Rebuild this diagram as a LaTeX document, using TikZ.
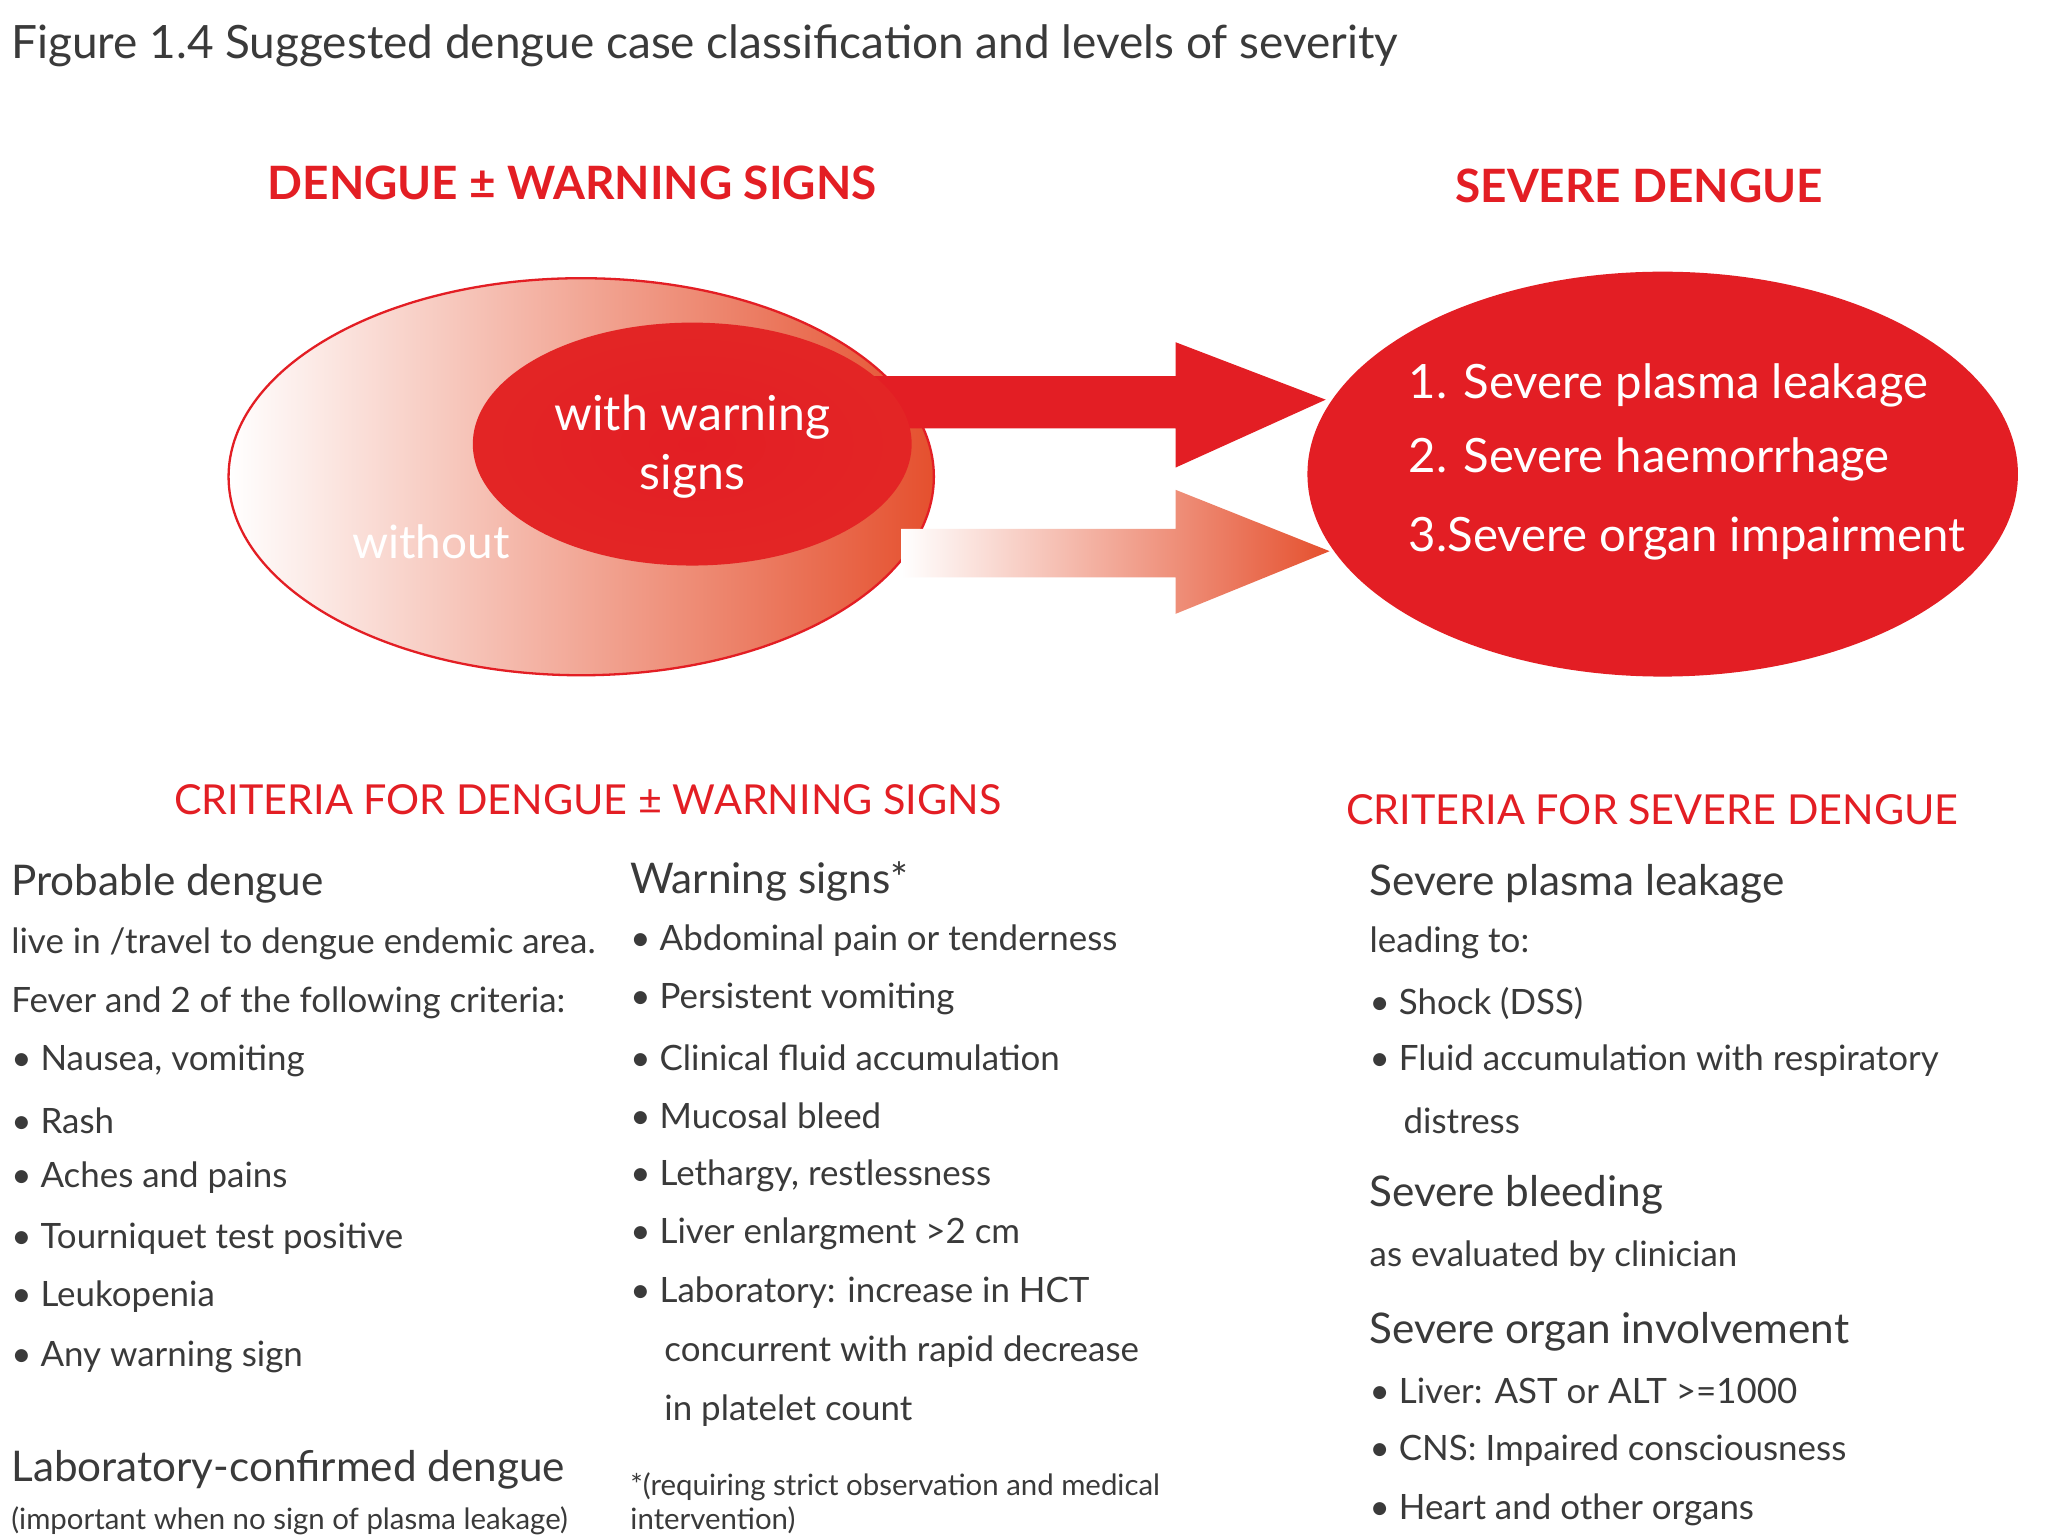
\documentclass[tikz,border=0pt]{standalone}
\usepackage{fontspec}
\setmainfont{Lato}
\usetikzlibrary{shapes.geometric}
\definecolor{dred}{HTML}{E31E24}
\definecolor{ored}{HTML}{E5502E}
\definecolor{txt}{HTML}{3A3A3A}
\tikzset{
 body/.style={anchor=west,inner sep=0pt,text=txt,font=\fontsize{7.6}{10}\selectfont},
 sub/.style={anchor=west,inner sep=0pt,text=txt,font=\fontsize{9.2}{11}\selectfont},
 small/.style={anchor=west,inner sep=0pt,text=txt,font=\fontsize{6.4}{9}\selectfont},
 crit/.style={anchor=center,inner sep=0pt,text=dred,font=\fontsize{9}{11}\selectfont},
 big/.style={anchor=center,inner sep=0pt,text=dred,font=\fontsize{10}{11}\bfseries\selectfont},
 inell/.style={anchor=west,inner sep=0pt,text=white,font=\fontsize{10.3}{12}\selectfont},
}
\begin{document}
\begin{tikzpicture}[x=0.01cm,y=-0.01cm]
\useasboundingbox (0,0) rectangle (1568,1176);
\fill[white] (0,0) rectangle (1568,1176);
\node[anchor=west,inner sep=0pt,text=txt,font=\fontsize{10}{12}\selectfont] (title) at (8,35) {Figure 1.4 Suggested dengue case classification and levels of severity};
\node[big] (h1) at (438,140) {DENGUE ± WARNING SIGNS};
\node[big] (h2) at (1255,142) {SEVERE DENGUE};
% left ellipse
\shade[left color=white,right color=ored,draw=dred,line width=0.5pt] (445,365) ellipse [x radius=270,y radius=152];
\node[anchor=center,text=white,font=\fontsize{10}{12}\selectfont] (wo) at (330,415) {without};
% arrows
\shade[left color=white,right color=ored] (690,405) -- (900,405) -- (900,375) -- (1018,422) -- (900,470) -- (900,442) -- (690,442) -- cycle;
\fill[dred] (650,288) -- (900,288) -- (900,262) -- (1015,306) -- (900,358) -- (900,328) -- (650,328) -- cycle;
\shade[inner color=dred,outer color=dred!85!ored] (530,340) ellipse [x radius=168,y radius=93];
\node[align=center,text=white,font=\fontsize{10.5}{13}\selectfont] (ws) at (530,342) {with warning\\signs};
% right ellipse
\fill[dred] (1273,363) ellipse [x radius=272,y radius=155];
\node[inell] (s1) at (1078,295) {1. Severe plasma leakage};
\node[inell] (s2) at (1078,352) {2. Severe haemorrhage};
\node[inell] (s3) at (1078,412) {3.Severe organ impairment};
% criteria
\node[crit] (c1) at (450,612) {CRITERIA FOR DENGUE ± WARNING SIGNS};
\node[crit] (c2) at (1265,620) {CRITERIA FOR SEVERE DENGUE};
% left column
\node[sub] at (8,677) {Probable dengue};
\node[body] at (8,723) {live in /travel to dengue endemic area.};
\node[body] at (8,768) {Fever and 2 of the following criteria:};
\node[body] at (8,812) {• Nausea, vomiting};
\node[body] at (8,858) {• Rash};
\node[body] at (8,902) {• Aches and pains};
\node[body] at (8,948) {• Tourniquet test positive};
\node[body] at (8,993) {• Leukopenia};
\node[body] at (8,1039) {• Any warning sign};
\node[sub] at (8,1125) {Laboratory-confirmed dengue};
\node[small] at (8,1164) {(important when no sign of plasma leakage)};
% middle column
\node[sub] at (482,675) {Warning signs*};
\node[body] at (482,720) {• Abdominal pain or tenderness};
\node[body] at (482,765) {• Persistent vomiting};
\node[body] at (482,810) {• Clinical fluid accumulation};
\node[body] at (482,854) {• Mucosal bleed};
\node[body] at (482,900) {• Lethargy, restlessness};
\node[body] at (482,945) {• Liver enlargment >2 cm};
\node[body] at (482,990) {• Laboratory: increase in HCT};
\node[body] at (508,1035) {concurrent with rapid decrease};
\node[body] at (508,1080) {in platelet count};
\node[small] at (482,1138) {*(requiring strict observation and medical};
\node[small] at (482,1164) {intervention)};
% right column
\node[sub] at (1048,677) {Severe plasma leakage};
\node[body] at (1048,722) {leading to:};
\node[body] at (1048,768) {• Shock (DSS)};
\node[body] at (1048,812) {• Fluid accumulation with respiratory};
\node[body] at (1074,858) {distress};
\node[sub] at (1048,915) {Severe bleeding};
\node[body] at (1048,962) {as evaluated by clinician};
\node[sub] at (1048,1020) {Severe organ involvement};
\node[body] at (1048,1065) {• Liver: AST or ALT >=1000};
\node[body] at (1048,1111) {• CNS: Impaired consciousness};
\node[body] at (1048,1156) {• Heart and other organs};
\end{tikzpicture}
\end{document}
